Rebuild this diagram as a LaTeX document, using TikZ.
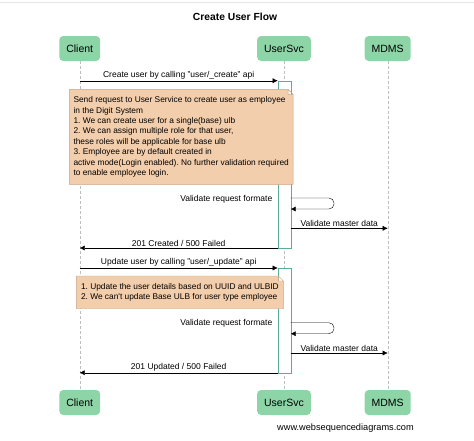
\documentclass[tikz,border=0pt]{standalone}
\usepackage{fontspec}
\setmainfont{Liberation Sans}
\usetikzlibrary{positioning, backgrounds, arrows.meta}

\definecolor{partgreen}{HTML}{8DD4A7}
\definecolor{notepeach}{HTML}{F3CEAC}
\definecolor{notebrown}{HTML}{C9A484}
\definecolor{actteal}{HTML}{5AAE97}

\tikzset{
  party/.style={fill=partgreen, rounded corners=4pt, minimum height=25pt, inner xsep=7pt, font=\fontsize{10.5}{12}\selectfont},
  life/.style={densely dashed, black!25, thin},
  act/.style={draw=actteal, fill=white, thin},
  msg/.style={->, thin},
  lbl/.style={font=\fontsize{8.5}{10}\selectfont, inner sep=1.5pt},
  notetext/.style={font=\frenchspacing\fontsize{8.35}{10.4}\selectfont, align=left, inner xsep=4pt, inner ysep=0pt, anchor=north west},
  notebg/.style={fill=notepeach, draw=notebrown, thin},
}

\begin{document}
\begin{tikzpicture}[>={Latex[length=5pt,width=5pt]}, x=1pt, y=-1pt]
  \useasboundingbox (0,0) rectangle (474,440);
  \draw [black!10, line width=0.8pt] (0,2) -- (474,2);
  \node [font=\bfseries\fontsize{10.3}{12}\selectfont] (title) at (235,17) {Create User Flow};

  % participants
  \node [party] (clientT) at (79.7,48.5) {Client};
  \node [party] (usersvcT) at (284,48.5) {UserSvc};
  \node [party] (mdmsT) at (387.7,48.5) {MDMS};
  \node [party] (clientB) at (79.7,402.5) {Client};
  \node [party] (usersvcB) at (284,402.5) {UserSvc};
  \node [party] (mdmsB) at (387.7,402.5) {MDMS};

  % points on the lifelines
  \coordinate (c1) at (79.7,80.7);
  \coordinate (u1) at (277.7,80.7);
  \coordinate (s1) at (290.7,198);
  \coordinate (s1b) at (290.7,209);
  \coordinate (v1) at (290.7,228.3);
  \coordinate (m1) at (387.7,228.3);
  \coordinate (u1r) at (277.7,248);
  \coordinate (c1r) at (79.7,248);
  \coordinate (c2) at (79.7,268);
  \coordinate (u2) at (277.7,268);
  \coordinate (s2) at (290.7,322.7);
  \coordinate (s2b) at (290.7,333.7);
  \coordinate (v2) at (290.7,353);
  \coordinate (m2) at (387.7,353);
  \coordinate (u2r) at (277.7,372.7);
  \coordinate (c2r) at (79.7,372.7);

  % notes
  \node [notetext, minimum height=94.7pt] (note1) at (69.3,89.3) {Send request to User Service to create user as employee\\
    in the Digit System\\
    1. We can create user for a single(base) ulb\\
    2. We can assign multiple role for that user,\\
    these roles will be applicable for base ulb\\
    3. Employee are by default created in\\
    active mode(Login enabled). No further validation required\\
    to enable employee login.};
  \node [notetext, inner xsep=4.5pt, minimum height=32.3pt] (note2) at (76.3,276) {1. Update the user details based on UUID and ULBID\\
    2. We can\textquotesingle t update Base ULB for user type employee};

  \begin{scope}[on background layer]
    \draw [life] (clientT.south) -- (clientB.north);
    \draw [life] (usersvcT.south) -- (usersvcB.north);
    \draw [life] (mdmsT.south) -- (mdmsB.north);
    \draw [act] (u1) rectangle (290.7,248);
    \draw [act] (u2) rectangle (290.7,372.7);
    \foreach \n in {note1, note2}
      \draw [notebg] (\n.north west) -- ([xshift=-5pt]\n.north east) -- ([yshift=-5pt]\n.north east)
        -- (\n.south east) -- (\n.south west) -- cycle
        ([xshift=-5pt]\n.north east) |- ([yshift=-5pt]\n.north east);
  \end{scope}

  % messages
  \draw [msg] (c1) -- node [lbl, above] {Create user by calling "user/\_create" api} (u1);
  \draw [msg, rounded corners=5pt] (s1) -- (334,198) -- (334,209) -- (s1b);
  \node [lbl, anchor=base east] at (274,201) {Validate request formate};
  \draw [msg] (v1) -- node [lbl, above] {Validate master data} (m1);
  \draw [msg] (u1r) -- node [lbl, above] {201 Created / 500 Failed} (c1r);
  \draw [msg] (c2) -- node [lbl, above] {Update user by calling "user/\_update" api} (u2);
  \draw [msg, rounded corners=5pt] (s2) -- (334,322.7) -- (334,333.7) -- (s2b);
  \node [lbl, anchor=base east] at (274,325.7) {Validate request formate};
  \draw [msg] (v2) -- node [lbl, above] {Validate master data} (m2);
  \draw [msg] (u2r) -- node [lbl, above] {201 Updated / 500 Failed} (c2r);

  \node [font=\fontsize{9.2}{11}\selectfont] (wsd) at (345.5,427.7) {www.websequencediagrams.com};
\end{tikzpicture}
\end{document}
